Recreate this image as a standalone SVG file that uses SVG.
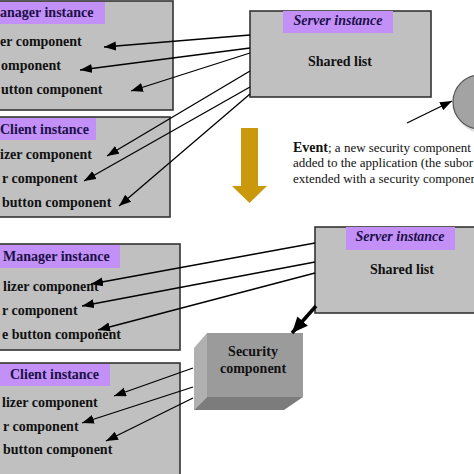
<svg xmlns="http://www.w3.org/2000/svg" width="474" height="474" viewBox="0 0 474 474">
<style>
.box{fill:#c0c0c0;stroke:#333;stroke-width:1.6}
.lab{fill:#c290f7}
text{font-family:"Liberation Serif","Times New Roman","DejaVu Serif",serif}
.ht{font-weight:bold;font-size:14px;fill:#1c1048}
.t{font-weight:bold;font-size:14px;fill:#111}
.si{font-weight:bold;font-style:italic;font-size:14px;fill:#1c1048}
.ev{font-size:13px;fill:#111}
.c{stroke:#000;stroke-width:1.3;fill:none}
</style>
<defs>
<marker id="ah" markerUnits="userSpaceOnUse" markerWidth="13" markerHeight="10" refX="12" refY="4.5" orient="auto"><path d="M0,0 L12,4.5 L0,9 z" fill="#000"/></marker>
<marker id="ahb" markerUnits="userSpaceOnUse" markerWidth="18" markerHeight="16" refX="16" refY="7" orient="auto"><path d="M0,0 L16,7 L0,14 z" fill="#000"/></marker>
</defs>
<rect width="474" height="474" fill="#fff"/>

<g id="manager-top">
<rect class="box" x="-2" y="1" width="175" height="109"/>
<rect class="lab" x="0" y="2" width="105" height="22"/>
<text class="ht" x="0" y="17">anager instance</text>
<text class="t" x="0" y="46">er component</text>
<text class="t" x="1" y="70">omponent</text>
<text class="t" x="1" y="94">utton component</text>
</g>

<g id="client-top">
<rect class="box" x="-2" y="117" width="172" height="100"/>
<rect class="lab" x="0" y="118" width="96" height="22"/>
<text class="ht" x="0" y="134">Client instance</text>
<text class="t" x="0" y="159">izer component</text>
<text class="t" x="2" y="183">r component</text>
<text class="t" x="2" y="207">button component</text>
</g>

<g id="server-top">
<rect class="box" x="250" y="11" width="181" height="86"/>
<rect class="lab" x="283" y="11" width="110" height="22"/>
<text class="si" x="338" y="25" text-anchor="middle">Server instance</text>
<text class="t" x="340" y="66" text-anchor="middle">Shared list</text>
</g>

<g id="new-component">
<circle cx="482" cy="106" r="27" fill="#ddd"/>
<circle cx="480" cy="102" r="27" fill="#a3a3a3" stroke="#555" stroke-width="1.2"/>
</g>

<g id="event">
<path d="M241,128 H258 V186 H267 L249.5,203 L232,186 H241 Z" fill="#c9980c"/>
<text class="ev" x="293" y="152"><tspan font-weight="bold" font-size="14px">Event</tspan>; a new security component</text>
<text class="ev" x="293" y="167">added to the application (the subor</text>
<text class="ev" x="293" y="183">extended with a security componen</text>
</g>

<g id="manager-bottom">
<rect class="box" x="-2" y="244" width="182" height="106"/>
<rect class="lab" x="0" y="245" width="120" height="23"/>
<text class="ht" x="3" y="261">Manager instance</text>
<text class="t" x="3" y="291">lizer component</text>
<text class="t" x="2" y="315">r component</text>
<text class="t" x="2" y="339">e button component</text>
</g>

<g id="client-bottom">
<rect class="box" x="-2" y="363" width="182" height="120"/>
<rect class="lab" x="0" y="364" width="110" height="22"/>
<text class="ht" x="10" y="379">Client instance</text>
<text class="t" x="2" y="407">lizer component</text>
<text class="t" x="3" y="431">r component</text>
<text class="t" x="3" y="454">button component</text>
</g>

<g id="server-bottom">
<rect class="box" x="315" y="227" width="162" height="86"/>
<rect class="lab" x="346" y="227" width="109" height="23"/>
<text class="si" x="400" y="241" text-anchor="middle">Server instance</text>
<text class="t" x="402" y="274" text-anchor="middle">Shared list</text>
</g>

<g id="security">
<polygon points="194,348 207,333 207,397 194,410" fill="#b0b0b0"/>
<polygon points="194,410 207,397 303,397 284,410" fill="#7c7c7c"/>
<rect x="207" y="333" width="96" height="64" fill="#9b9b9b"/>
<text class="t" x="253" y="356" text-anchor="middle">Security</text>
<text class="t" x="253" y="373" text-anchor="middle">component</text>
</g>

<g id="connectors">
<line class="c" x1="250" y1="35" x2="104" y2="47" marker-end="url(#ah)"/>
<line class="c" x1="250" y1="48" x2="80" y2="70" marker-end="url(#ah)"/>
<line class="c" x1="250" y1="53" x2="131" y2="91" marker-end="url(#ah)"/>
<line class="c" x1="250" y1="71" x2="107" y2="156" marker-end="url(#ah)"/>
<line class="c" x1="250" y1="87" x2="84" y2="181" marker-end="url(#ah)"/>
<line class="c" x1="250" y1="94" x2="119" y2="206" marker-end="url(#ah)"/>
<line class="c" x1="407" y1="123" x2="452" y2="101" marker-end="url(#ah)"/>
<line class="c" x1="315" y1="243" x2="91" y2="284" marker-end="url(#ah)"/>
<line class="c" x1="315" y1="262" x2="82" y2="306" marker-end="url(#ah)"/>
<line class="c" x1="315" y1="273" x2="98" y2="330" marker-end="url(#ah)"/>
<line class="c" x1="193" y1="368" x2="114" y2="396" marker-end="url(#ah)"/>
<line class="c" x1="193" y1="387" x2="82" y2="423" marker-end="url(#ah)"/>
<line class="c" x1="193" y1="398" x2="106" y2="441" marker-end="url(#ah)"/>
<line x1="316" y1="306" x2="292" y2="333" stroke="#000" stroke-width="3.5" marker-end="url(#ahb)"/>
</g>
</svg>
